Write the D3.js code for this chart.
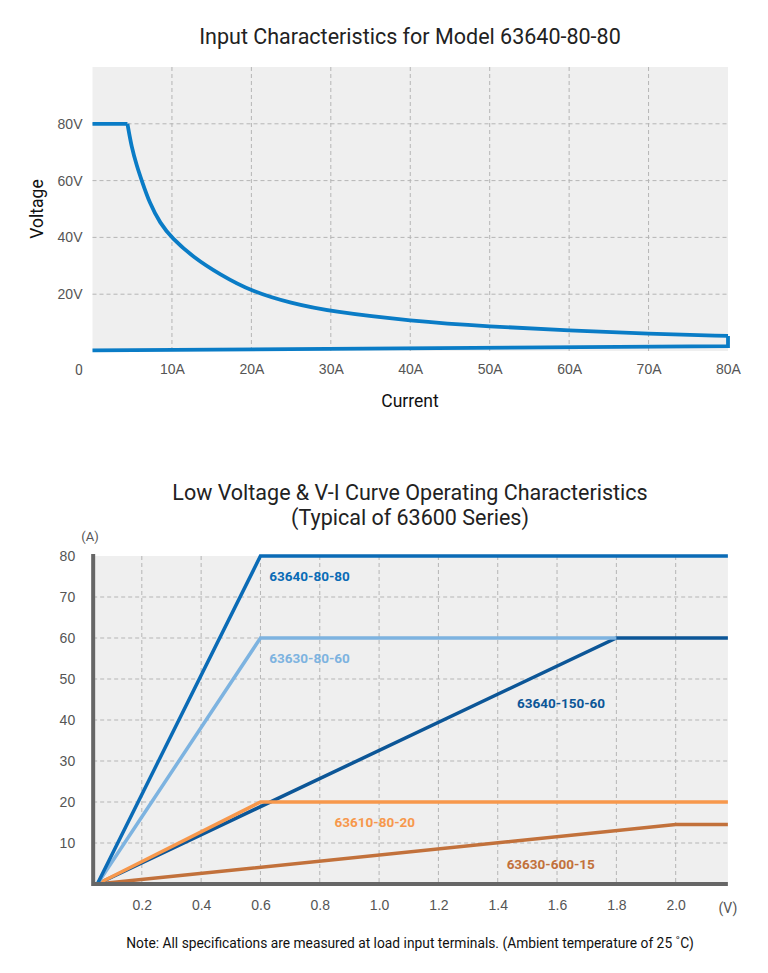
<!DOCTYPE html>
<html>
<head>
<meta charset="utf-8">
<script src="https://cdn.jsdelivr.net/npm/d3@7"></script>
<style>
  body { margin: 0; background: #fff; }
  svg { font-family: Roboto, "Noto Sans", sans-serif; }
  .tick text { fill: #555; font-size: 14px; }
</style>
</head>
<body>
<svg width="768" height="973"></svg>
<script>
// ---- chart 1 data: input characteristics (current A, voltage V)
const c1XTicks = [10, 20, 30, 40, 50, 60, 70, 80];
const c1YTicks = [20, 40, 60, 80];
const c1Flat = [[0, 80], [4.4, 80]];
const c1Curve = [[4.4, 80], [4.9, 72], [5.6, 65], [6.2, 60], [7.2, 52], [8.5, 45], [10, 39.7],
                 [12.7, 33], [16, 27], [20, 21], [25, 16.8], [30, 13.9], [40, 10.6],
                 [50, 8.6], [60, 7.2], [70, 6], [80, 5.3]];
const c1Return = [[80, 5.3], [80, 1.7], [0, 0.2]];

// ---- chart 2 data: low voltage V-I curves (voltage V, current A)
const c2XTicks = [0.2, 0.4, 0.6, 0.8, 1.0, 1.2, 1.4, 1.6, 1.8, 2.0];
const c2YTicks = [10, 20, 30, 40, 50, 60, 70, 80];
const models = ["63630-600-15", "63640-150-60", "63610-80-20", "63630-80-60", "63640-80-80"];
const curves = {
  "63640-80-80": [[0.05, 0], [0.6, 80], [2.176, 80]],
  "63630-80-60": [[0.05, 0], [0.6, 60], [1.8, 60]],
  "63640-150-60": [[0.05, 0], [1.8, 60], [2.176, 60]],
  "63610-80-20": [[0.05, 0], [0.6, 20], [2.176, 20]],
  "63630-600-15": [[0.05, 0], [2.0, 14.5], [2.176, 14.5]]
};
const labelPos = {
  "63640-80-80": [0.63, 73.8],
  "63630-80-60": [0.63, 53.9],
  "63640-150-60": [1.465, 43],
  "63610-80-20": [0.85, 14],
  "63630-600-15": [1.43, 3.7]
};
const colors = {
  "63640-80-80": "#0a6bb6",
  "63630-80-60": "#7db3e0",
  "63640-150-60": "#0c5697",
  "63610-80-20": "#f7984c",
  "63630-600-15": "#c2713b"
};

const svg = d3.select("svg");

// ================= chart 1 =================
const x1 = d3.scaleLinear().domain([0, 80]).range([92.5, 728]);
const y1 = d3.scaleLinear().domain([0, 100]).range([351, 67]);

svg.append("text")
    .attr("x", 410).attr("y", 44)
    .attr("text-anchor", "middle")
    .style("font-size", "21.5px").style("fill", "#222")
    .text("Input Characteristics for Model 63640-80-80");

svg.append("rect")
    .attr("x", x1(0)).attr("y", y1(100))
    .attr("width", x1(80) - x1(0)).attr("height", y1(0) - y1(100))
    .attr("fill", "#efefef");

const g1 = svg.append("g");
g1.selectAll(".vg").data(c1XTicks.slice(0, -1)).join("line")
    .attr("x1", d => x1(d)).attr("x2", d => x1(d))
    .attr("y1", y1(100)).attr("y2", y1(0))
    .attr("stroke", "#b5b5b5").attr("stroke-dasharray", "4,3");
g1.selectAll(".hg").data(c1YTicks).join("line")
    .attr("x1", x1(0)).attr("x2", x1(80))
    .attr("y1", d => y1(d)).attr("y2", d => y1(d))
    .attr("stroke", "#b5b5b5").attr("stroke-dasharray", "4,3");

svg.append("g")
    .attr("transform", `translate(0,${y1(0)})`)
    .call(d3.axisBottom(x1).tickValues(c1XTicks).tickSize(0).tickPadding(13).tickFormat(d => d + "A"))
    .call(g => g.select(".domain").remove());
svg.append("g")
    .attr("transform", `translate(${x1(0) - 10},0)`)
    .call(d3.axisLeft(y1).tickValues(c1YTicks).tickSize(0).tickPadding(0).tickFormat(d => d + "V"))
    .call(g => g.select(".domain").remove());
svg.append("text")
    .attr("x", 79).attr("y", 375)
    .attr("text-anchor", "middle")
    .style("font-size", "14px").style("fill", "#555")
    .text("0");

svg.append("text")
    .attr("x", 410).attr("y", 407)
    .attr("text-anchor", "middle")
    .style("font-size", "17.5px").style("fill", "#111")
    .text("Current");
svg.append("text")
    .attr("transform", "translate(43,209) rotate(-90)")
    .attr("text-anchor", "middle")
    .style("font-size", "17.5px").style("fill", "#111")
    .text("Voltage");

const line1 = d3.line().x(d => x1(d[0])).y(d => y1(d[1]));
[c1Flat, c1Return].forEach(seg => {
  svg.append("path")
      .attr("d", line1(seg))
      .attr("fill", "none").attr("stroke", "#0a7cc6")
      .attr("stroke-width", 3.8).attr("stroke-linejoin", "miter");
});
svg.append("path")
    .attr("d", line1.curve(d3.curveBasis)(c1Curve))
    .attr("fill", "none").attr("stroke", "#0a7cc6")
    .attr("stroke-width", 3.8);

// ================= chart 2 =================
const x2 = d3.scaleLinear().domain([0, 2.2]).range([82.5, 735]);
const y2 = d3.scaleLinear().domain([0, 80]).range([884, 556]);
const left2 = x2(0.036), right2 = x2(2.176);

svg.append("text")
    .attr("x", 410).attr("y", 500)
    .attr("text-anchor", "middle")
    .style("font-size", "21.5px").style("fill", "#222")
    .text("Low Voltage & V-I Curve Operating Characteristics");
svg.append("text")
    .attr("x", 410).attr("y", 525)
    .attr("text-anchor", "middle")
    .style("font-size", "21.5px").style("fill", "#222")
    .text("(Typical of 63600 Series)");

svg.append("rect")
    .attr("x", left2).attr("y", y2(80))
    .attr("width", right2 - left2).attr("height", y2(0) - y2(80))
    .attr("fill", "#efefef");

const g2 = svg.append("g");
g2.selectAll("line.v").data(c2XTicks).join("line")
    .attr("x1", d => x2(d)).attr("x2", d => x2(d))
    .attr("y1", y2(80)).attr("y2", y2(0))
    .attr("stroke", "#b5b5b5").attr("stroke-dasharray", "4,3");
g2.selectAll("line.h").data(c2YTicks.slice(0, -1)).join("line")
    .attr("x1", left2).attr("x2", right2)
    .attr("y1", d => y2(d)).attr("y2", d => y2(d))
    .attr("stroke", "#b5b5b5").attr("stroke-dasharray", "4,3");

svg.append("g")
    .attr("transform", `translate(0,${y2(0)})`)
    .call(d3.axisBottom(x2).tickValues(c2XTicks).tickSize(0).tickPadding(16).tickFormat(d3.format(".1f")))
    .call(g => g.select(".domain").remove());
svg.append("g")
    .attr("transform", `translate(${left2 - 18},0)`)
    .call(d3.axisLeft(y2).tickValues(c2YTicks).tickSize(0).tickPadding(0))
    .call(g => g.select(".domain").remove());
svg.append("text")
    .attr("x", right2).attr("y", 913)
    .attr("text-anchor", "middle")
    .style("font-size", "14px").style("fill", "#555")
    .text("(V)");
svg.append("text")
    .attr("x", 90).attr("y", 541)
    .attr("text-anchor", "middle")
    .style("font-size", "13px").style("fill", "#555")
    .text("(A)");

const line2 = d3.line().x(d => x2(d[0])).y(d => y2(d[1]));
models.forEach(m => {
  svg.append("path")
      .attr("d", line2(curves[m]))
      .attr("fill", "none").attr("stroke", colors[m])
      .attr("stroke-width", 3.5).attr("stroke-linejoin", "miter");
  svg.append("text")
      .attr("x", x2(labelPos[m][0])).attr("y", y2(labelPos[m][1]))
      .style("font-size", "13.5px").style("font-weight", "bold")
      .style("fill", colors[m])
      .text(m);
});

// axes lines
svg.append("path")
    .attr("d", `M${left2},${y2(80) - 2}V${y2(0)}H${right2}`)
    .attr("fill", "none").attr("stroke", "#666").attr("stroke-width", 4);

svg.append("text")
    .attr("x", 410).attr("y", 948)
    .attr("text-anchor", "middle")
    .style("font-size", "13.8px").style("fill", "#111")
    .text("Note: All specifications are measured at load input terminals. (Ambient temperature of 25 \u02DAC)");
</script>
</body>
</html>
